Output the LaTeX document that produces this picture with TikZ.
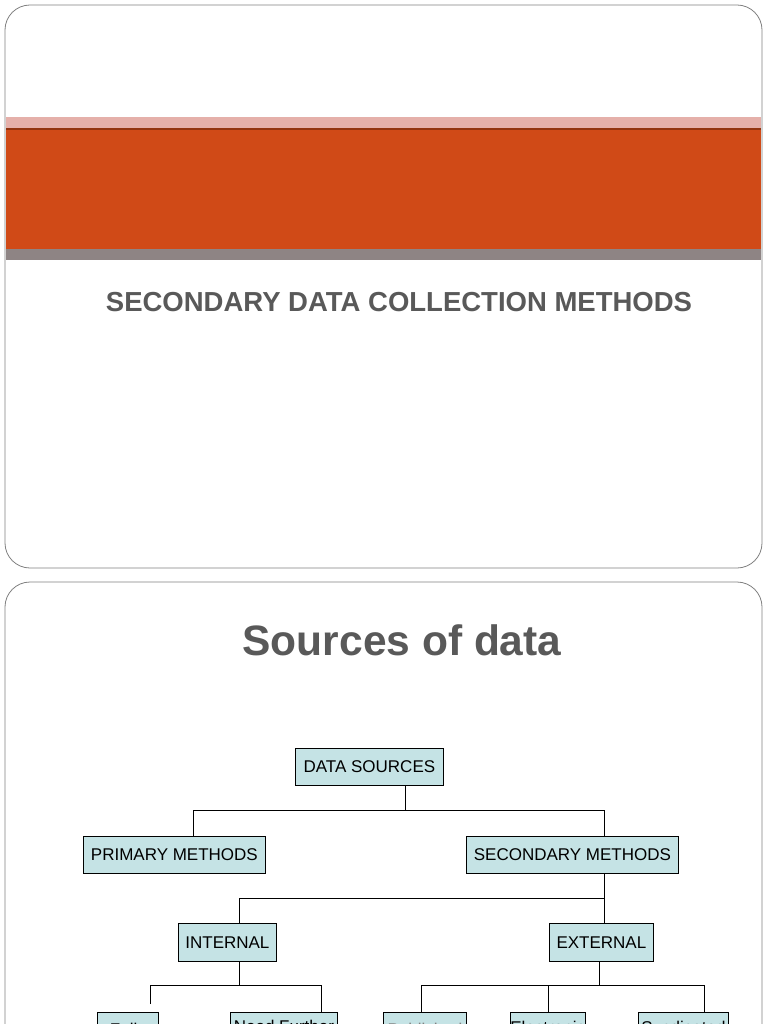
\documentclass[tikz,border=0pt]{standalone}
\usepackage{fontspec}
\setmainfont{Liberation Sans}
\definecolor{boxfill}{HTML}{C5E3E5}
\definecolor{txtgray}{HTML}{595959}
\definecolor{bandor}{HTML}{D04A17}
\definecolor{bandpk}{HTML}{E5B0AA}
\definecolor{bandgr}{HTML}{8E8484}
\begin{document}
\begin{tikzpicture}[x=1pt,y=-1pt,
  bx/.style={draw=black,fill=boxfill,line width=0.8pt,inner sep=0pt,font=\fontsize{17}{19}\selectfont,anchor=north west},
  ln/.style={line width=0.9pt}]
\useasboundingbox (0,0) rectangle (768,1024);
\clip (0,0) rectangle (768,1024);
% slide 1
\draw[gray,line width=0.8pt,fill=white,rounded corners=25pt] (5,5) rectangle (762,568);
\fill[bandpk] (6,117) rectangle (761,128);
\fill[bandor] (6,128) rectangle (761,249);
\fill[bandor!70!black] (6,128) rectangle (761,130);
\fill[bandgr] (6,249) rectangle (761,260);
\node[font=\bfseries\fontsize{27.5}{30}\selectfont,text=txtgray] (t1) at (399,302) {SECONDARY DATA COLLECTION METHODS};
% slide 2
\draw[gray,line width=0.8pt,fill=white,rounded corners=25pt] (5,582) rectangle (762,1100);
\node[font=\bfseries\fontsize{42.5}{46}\selectfont,text=txtgray] (t2) at (402,640) {Sources of data};
% boxes
\node[bx,minimum width=148pt,minimum height=37pt] (ds) at (295,748) {DATA SOURCES};
\node[bx,minimum width=182pt,minimum height=37pt] (pm) at (83,836) {PRIMARY METHODS};
\node[bx,minimum width=212pt,minimum height=37pt] (sm) at (466,836) {SECONDARY METHODS};
\node[bx,minimum width=98pt,minimum height=38pt] (in) at (178,923) {INTERNAL};
\node[bx,minimum width=104pt,minimum height=38pt] (ex) at (549,923) {EXTERNAL};
\node[bx,minimum width=61pt,minimum height=40pt] (fu) at (97,1012) {\raisebox{7pt}{Fully}};
\node[bx,minimum width=107pt,minimum height=40pt] (nf) at (230,1012) {\raisebox{12pt}{Need Further}};
\node[bx,minimum width=83pt,minimum height=40pt] (pu) at (383,1012) {\raisebox{7pt}{\color{gray}Published}};
\node[bx,minimum width=56pt,minimum height=40pt] (el) at (510,1012) {\raisebox{11pt}{Electronic}};
\node[bx,minimum width=90pt,minimum height=40pt] (sy) at (638,1012) {\raisebox{11pt}{Syndicated}};
% connectors
\draw[ln] (ds.south -| 405,0) -- (405,810);
\draw[ln] (pm.north -| 193,0) |- (604,810) -- (sm.north -| 604,0);
\draw[ln] (sm.south -| 604,0) -- (604,898) -| (239,0 |- in.north);
\draw[ln] (604,898) -- (ex.north -| 604,0);
\draw[ln] (in.south -| 239,0) -- (239,985);
\draw[ln] (150,1004) -- (150,985) -| (nf.north -| 321,0);
\draw[ln] (ex.south -| 599,0) -- (599,985);
\draw[ln] (pu.north -| 421,0) |- (704,985) -- (sy.north -| 704,0);
\draw[ln] (548,985) -- (el.north -| 548,0);
\end{tikzpicture}
\end{document}
